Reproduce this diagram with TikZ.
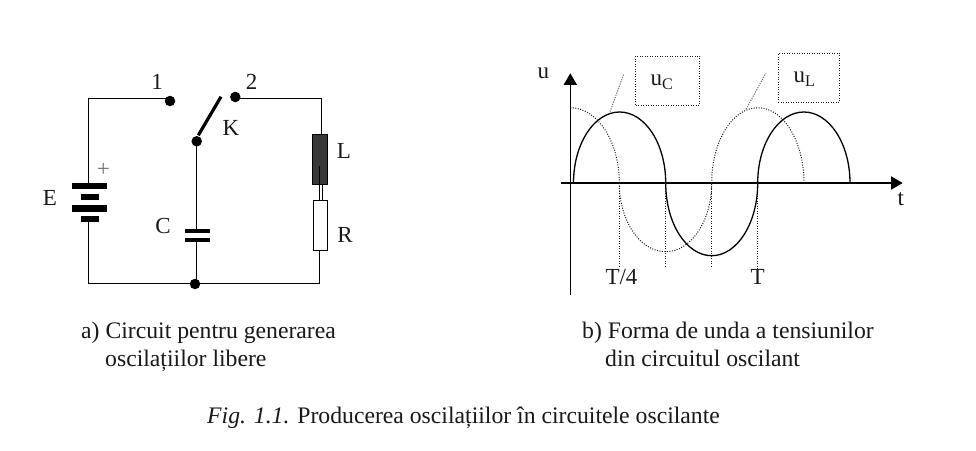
\documentclass[tikz,border=0pt]{standalone}
\usepackage{fontspec}
\setmainfont{Liberation Serif}
\usetikzlibrary{arrows.meta}
\tikzset{
 x=1pt,y=-1pt,
 lab/.style={inner sep=0pt,font=\fontsize{23}{26}\selectfont,text=black!90},
 captext/.style={inner sep=0pt,anchor=base west,font=\fontsize{23.7}{26}\selectfont,text=black!90},
 wire/.style={draw=black,line width=1pt},
 term/.style={circle,fill=black,minimum size=10.5pt,inner sep=0pt},
 bar/.style={fill=black,draw=none,minimum height=6.3pt,inner sep=0pt},
 sol/.style={draw=black,line width=1.3pt},
 dots/.style={draw=black!90,line width=1pt,dash pattern=on 1pt off 1.5pt},
 leader/.style={draw=black!55,line width=1pt,dash pattern=on 1.2pt off 1.2pt},
 dotbox/.style={draw=black!90,line width=1pt,dash pattern=on 1pt off 1.5pt,fill=white,inner sep=0pt},
 axis/.style={draw=black,line width=1.4pt,-{Triangle[length=11.5pt,width=13pt]}},
 blade/.style={draw=black,line width=3.2pt},
}
\begin{document}
\begin{tikzpicture}
\useasboundingbox[fill=white] (0,0) rectangle (976,450);
% circuit
\coordinate (tl) at (88.7,98.3);
\coordinate (tr) at (321.7,98.3);
\coordinate (bl) at (88.7,283);
\coordinate (br) at (319.3,283);
\node[term] (t1) at (170,101) {};
\node[term] (t2) at (235.3,97) {};
\node[term] (tk) at (196.7,141.3) {};
\node[term] (tb) at (195,284) {};
\coordinate (bladeend) at (221,96.7);
\node[bar,minimum width=35pt] (b1) at (89.5,186) {};
\node[bar,minimum width=18pt] (b2) at (90,196.7) {};
\node[bar,minimum width=35pt] (b3) at (89.5,208.5) {};
\node[bar,minimum width=18pt] (b4) at (90,218.7) {};
\node[bar,minimum width=25pt,minimum height=3.8pt] (c1) at (197.5,231) {};
\node[bar,minimum width=25pt,minimum height=3.8pt] (c2) at (197.5,240) {};
\node[draw=black,fill=black!78,line width=0.6pt,minimum width=15pt,minimum height=50.5pt,inner sep=0pt] (L) at (320,159.4) {};
\node[draw=black,fill=white,line width=0.6pt,minimum width=14pt,minimum height=50pt,inner sep=0pt] (R) at (320.7,225.3) {};
\draw[wire] (t1.center |- tl) -- (tl) -- (b1.north -| tl);
\draw[wire] (b4.south -| bl) -- (bl) -- (br) -- (R.south -| br);
\draw[wire] (t2.center |- tr) -- (tr) -- (L.north -| tr);
\draw[wire] (tk.center) -- (c1.north -| tk);
\draw[wire] (c2.south -| tk) -- (tk |- tb);
\draw[blade] ([shift={(1.6,-6)}]tk.center) -- (bladeend);
\draw[draw=black,line width=0.7pt] (319.3,166) -- (319.3,200.3);
\draw[draw=black,line width=0.7pt] (321.9,184.7) -- (321.9,200.3);
\node[lab] (n1) at (157,81.5) {1};
\node[lab] (n2) at (251.7,81.5) {2};
\node[lab] (nK) at (231,128) {K};
\node[lab] (nL) at (344,151) {L};
\node[lab] (nR) at (345,235) {R};
\node[lab] (nE) at (50,198) {E};
\node[lab] (nC) at (163,226) {C};
\node[lab,text=black!55] (nP) at (103.3,169.5) {+};
% waveform
\coordinate (yb) at (570.3,295);
\coordinate (yt) at (570.3,73.3);
\coordinate (xl) at (560.7,183);
\coordinate (xr) at (902.7,183);
\draw[axis] (yb) -- (yt);
\draw[axis] (xl) -- (xr);
\draw[dots] (570.3,107.7) arc[start angle=-90,end angle=0,x radius=49,y radius=75.3];
\draw[dots] (619.3,183) arc[start angle=180,end angle=0,x radius=46.2,y radius=68.7];
\draw[dots] (711.7,183) arc[start angle=180,end angle=0,x radius=46.15,y radius=-75.3];
\draw[sol] (573.5,183) arc[start angle=180,end angle=0,x radius=46.1,y radius=-71];
\draw[sol] (665.7,183) arc[start angle=180,end angle=0,x radius=46,y radius=72.7];
\draw[sol] (757.7,183) arc[start angle=180,end angle=0,x radius=46.15,y radius=-71];
\coordinate (d1) at (619.3,183); \coordinate (d1e) at (619.3,267);
\coordinate (d2) at (665.7,183); \coordinate (d2e) at (665.7,268);
\coordinate (d3) at (711.7,183); \coordinate (d3e) at (711.7,268);
\coordinate (d4) at (757.7,183); \coordinate (d4e) at (757.7,273);
\draw[dots] (d1) -- (d1e);
\draw[dots] (d2) -- (d2e);
\draw[dots] (d3) -- (d3e);
\draw[dots] (d4) -- (d4e);
\coordinate (lc1) at (610,111.7); \coordinate (lc2) at (623.7,74.3);
\coordinate (ll1) at (746,109.3); \coordinate (ll2) at (765.7,73.3);
\draw[leader] (lc1) -- (lc2);
\draw[leader] (ll1) -- (ll2);
\node[dotbox,minimum width=64pt,minimum height=49.3pt] (bC) at (667.7,80.7) {};
\node[dotbox,minimum width=61.4pt,minimum height=49pt] (bL) at (809,77.8) {};
\node[lab] (uC) at (662,82) {u\textsubscript{C}};
\node[lab] (uL) at (804.5,79.5) {u\textsubscript{L}};
\node[lab] (nu) at (543.3,73) {u};
\node[lab] (nt) at (900.7,199) {t};
\node[lab] (nT4) at (621.5,277) {T/4};
\node[lab] (nT) at (757.7,277) {T};
% captions
\node[captext] (ca1) at (81,338.5) {a) Circuit pentru generarea};
\node[captext] (ca2) at (105,366.5) {oscilațiilor libere};
\node[captext] (cb1) at (582,338.5) {b) Forma de unda a tensiunilor};
\node[captext] (cb2) at (605,366.5) {din circuitul oscilant};
\node[captext] (fig) at (207,423) {\textit{Fig. 1.1.} Producerea oscilațiilor în circuitele oscilante};
\end{tikzpicture}
\end{document}
